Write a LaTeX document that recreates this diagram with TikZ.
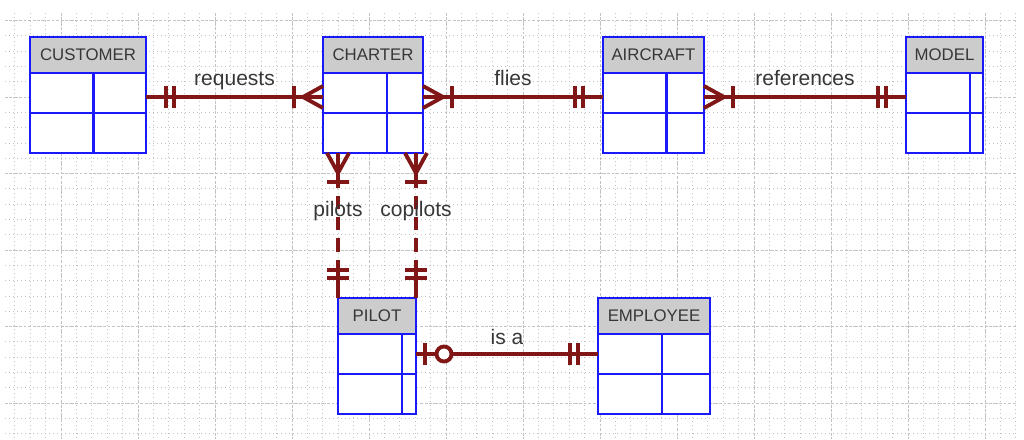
\documentclass[tikz,border=0pt]{standalone}
\usepackage{fontspec}
\setmainfont{Liberation Sans}
\usetikzlibrary{positioning}
\definecolor{entblue}{RGB}{25,25,250}
\definecolor{relred}{RGB}{128,22,22}
\definecolor{headgray}{RGB}{204,204,204}
\definecolor{txtgray}{RGB}{55,55,55}
\definecolor{gridgray}{RGB}{195,195,195}

\begin{document}
\begin{tikzpicture}[x=0.75pt,y=-0.75pt,
  head/.style={draw=entblue,fill=headgray,line width=2.2pt,inner sep=0pt,outer sep=0pt,
    minimum width=#1,minimum height=27pt,text=txtgray,font=\fontsize{12.6}{14}\selectfont},
  row/.style={draw=entblue,fill=white,line width=2.2pt,inner sep=0pt,outer sep=0pt,
    minimum width=#1,minimum height=30pt},
  key/.style={draw=entblue,line width=2.2pt},
  rel/.style={draw=relred,line width=2.9pt,line join=round},
  lbl/.style={text=txtgray,font=\fontsize{15.75}{18}\selectfont,inner sep=0pt,anchor=base},
  gridminor/.style={draw=gridgray,line width=0.5pt,dash pattern=on 0.6pt off 2.4pt},
  gridmajor/.style={draw=gridgray,line width=0.6pt,dash pattern=on 2pt off 1.5pt},
  one/.pic={\draw[rel] (0,0) -- (32,0) (20,-11) -- (20,11) (28,-11) -- (28,11);},
  many/.pic={\draw[rel] (0,0) -- (32,0) (0,-11) -- (20,0) -- (0,11) (29,-11) -- (29,11);},
  zeroone/.pic={\draw[rel] (9,-11) -- (9,11); \draw[rel,fill=white] (28,0) circle (7.5);}]
  \useasboundingbox (0,0) rectangle (1024,439);
  % grid paper
  \begin{scope}
    \clip (5,13) rectangle (1017,439);
    \foreach \gx in {14.8,30.2,...,1017} \draw[gridminor] (\gx,13) -- (\gx,439);
    \foreach \gy in {5.2,20.5,...,439} \draw[gridminor] (5,\gy) -- (1017,\gy);
    \foreach \gx in {61,138,...,1017} \draw[gridmajor] (\gx,13) -- (\gx,439);
    \foreach \gy in {20.5,97,...,439} \draw[gridmajor] (5,\gy) -- (1017,\gy);
  \end{scope}
  % entities
  \node[head=87pt,anchor=north west] (customer) at (30,37) {CUSTOMER};
  \node[row=87pt,below=0pt of customer] (customer-1) {};
  \node[row=87pt,below=0pt of customer-1] (customer-2) {};
  \node[head=75pt,anchor=north west] (charter) at (323,37) {CHARTER};
  \node[row=75pt,below=0pt of charter] (charter-1) {};
  \node[row=75pt,below=0pt of charter-1] (charter-2) {};
  \node[head=75.75pt,anchor=north west] (aircraft) at (603,37) {AIRCRAFT};
  \node[row=75.75pt,below=0pt of aircraft] (aircraft-1) {};
  \node[row=75.75pt,below=0pt of aircraft-1] (aircraft-2) {};
  \node[head=57.75pt,anchor=north west] (model) at (906,37) {MODEL};
  \node[row=57.75pt,below=0pt of model] (model-1) {};
  \node[row=57.75pt,below=0pt of model-1] (model-2) {};
  \node[head=58.5pt,anchor=north west] (pilot) at (338,298) {PILOT};
  \node[row=58.5pt,below=0pt of pilot] (pilot-1) {};
  \node[row=58.5pt,below=0pt of pilot-1] (pilot-2) {};
  \node[head=84pt,anchor=north west] (employee) at (598,298) {EMPLOYEE};
  \node[row=84pt,below=0pt of employee] (employee-1) {};
  \node[row=84pt,below=0pt of employee-1] (employee-2) {};
  % key columns
  \draw[key] ([xshift=47.5pt]customer-1.north west) -- ([xshift=47.5pt]customer-2.south west);
  \draw[key] ([xshift=48pt]charter-1.north west) -- ([xshift=48pt]charter-2.south west);
  \draw[key] ([xshift=47.5pt]aircraft-1.north west) -- ([xshift=47.5pt]aircraft-2.south west);
  \draw[key] ([xshift=48pt]model-1.north west) -- ([xshift=48pt]model-2.south west);
  \draw[key] ([xshift=48pt]pilot-1.north west) -- ([xshift=48pt]pilot-2.south west);
  \draw[key] ([xshift=48pt]employee-1.north west) -- ([xshift=48pt]employee-2.south west);
  % relationships
  \draw[rel] ([yshift=-3pt]customer-1.east) -- ([yshift=-3pt]charter-1.west)
    node[lbl,midway,yshift=8.5pt] {requests};
  \pic at ([yshift=-3pt]customer-1.east) {one};
  \pic[rotate=180] at ([yshift=-3pt]charter-1.west) {many};
  \draw[rel] ([yshift=-3pt]charter-1.east) -- ([yshift=-3pt]aircraft-1.west)
    node[lbl,midway,yshift=8.5pt] {flies};
  \pic at ([yshift=-3pt]charter-1.east) {many};
  \pic[rotate=180] at ([yshift=-3pt]aircraft-1.west) {one};
  \draw[rel] ([yshift=-3pt]aircraft-1.east) -- ([yshift=-3pt]model-1.west)
    node[lbl,midway,yshift=8.5pt] {references};
  \pic at ([yshift=-3pt]aircraft-1.east) {many};
  \pic[rotate=180] at ([yshift=-3pt]model-1.west) {one};
  \draw[rel,dash pattern=on 10pt off 6pt] (pilot.north west |- charter-2.south) -- (pilot.north west)
    node[lbl,pos=0.44] {pilots};
  \pic[rotate=-90] at (pilot.north west |- charter-2.south) {many};
  \pic[rotate=90] at (pilot.north west) {one};
  \draw[rel,dash pattern=on 10pt off 6pt] (pilot.north east |- charter-2.south) -- (pilot.north east)
    node[lbl,pos=0.44] {copilots};
  \pic[rotate=-90] at (pilot.north east |- charter-2.south) {many};
  \pic[rotate=90] at (pilot.north east) {one};
  \draw[rel] (pilot-1.east) -- (employee-1.west)
    node[lbl,midway,yshift=7.5pt] {is a};
  \pic at (pilot-1.east) {zeroone};
  \pic[rotate=180] at (employee-1.west) {one};
\end{tikzpicture}
\end{document}
